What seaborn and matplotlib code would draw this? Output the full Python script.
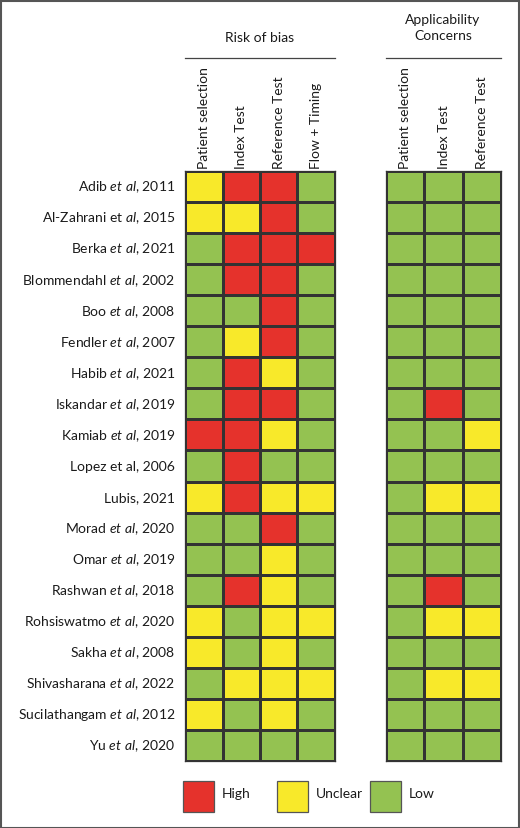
import numpy as np
import pandas as pd
import matplotlib
matplotlib.use("Agg")
import matplotlib.pyplot as plt
import seaborn as sns
from matplotlib.colors import ListedColormap
from matplotlib.patches import Rectangle
from matplotlib.lines import Line2D

studies = ["Adib $\\mathit{et\\ al}$, 2011",
           "Al-Zahrani et $\\mathit{al}$, 2015",
           "Berka $\\mathit{et\\ al}$, 2021",
           "Blommendahl $\\mathit{et\\ al}$, 2002",
           "Boo $\\mathit{et\\ al}$, 2008",
           "Fendler $\\mathit{et\\ al}$, 2007",
           "Habib $\\mathit{et\\ al}$, 2021",
           "Iskandar $\\mathit{et\\ al}$, 2019",
           "Kamiab $\\mathit{et\\ al}$, 2019",
           "Lopez et al, 2006",
           "Lubis, 2021",
           "Morad $\\mathit{et\\ al}$, 2020",
           "Omar $\\mathit{et\\ al}$, 2019",
           "Rashwan $\\mathit{et\\ al}$, 2018",
           "Rohsiswatmo $\\mathit{et\\ al}$, 2020",
           "Sakha $\\mathit{et\\ al}$, 2008",
           "Shivasharana $\\mathit{et\\ al}$, 2022",
           "Sucilathangam $\\mathit{et\\ al}$, 2012",
           "Yu $\\mathit{et\\ al}$, 2020"]

bias_domains = ["Patient selection", "Index Test", "Reference Test", "Flow + Timing"]
applic_domains = ["Patient selection", "Index Test", "Reference Test"]

# H = high, U = unclear, L = low
bias_patient = ["U", "U", "L", "L", "L", "L", "L", "L", "H", "L", "U", "L", "L", "L", "U", "U", "L", "U", "L"]
bias_index = ["H", "U", "H", "H", "L", "U", "H", "H", "H", "H", "H", "L", "L", "H", "L", "L", "U", "L", "L"]
bias_reference = ["H", "H", "H", "H", "H", "H", "U", "H", "U", "L", "U", "H", "U", "U", "U", "U", "U", "U", "L"]
bias_flow = ["L", "L", "H", "L", "L", "L", "L", "L", "L", "L", "U", "L", "L", "L", "U", "L", "U", "L", "L"]

applic_patient = ["L"] * 19
applic_index = ["L", "L", "L", "L", "L", "L", "L", "H", "L", "L", "U", "L", "L", "H", "U", "L", "U", "L", "L"]
applic_reference = ["L", "L", "L", "L", "L", "L", "L", "L", "U", "L", "U", "L", "L", "L", "U", "L", "U", "L", "L"]

legend_labels = ["High", "Unclear", "Low"]
code = {"H": 0, "U": 1, "L": 2}

red = "#E5322C"
yellow = "#F8E92A"
green = "#94C251"
cmap = ListedColormap([red, yellow, green])

plt.rcParams["font.family"] = ["Lato", "DejaVu Sans"]
plt.rcParams["mathtext.fontset"] = "custom"
plt.rcParams["mathtext.rm"] = "Lato"
plt.rcParams["mathtext.it"] = "Lato:italic"
plt.rcParams["text.color"] = "#1a1a1a"

bias_df = pd.DataFrame({bias_domains[0]: bias_patient, bias_domains[1]: bias_index,
                        bias_domains[2]: bias_reference, bias_domains[3]: bias_flow},
                       index=studies).replace(code).astype(int)
applic_df = pd.DataFrame({applic_domains[0]: applic_patient, applic_domains[1]: applic_index,
                          applic_domains[2]: applic_reference},
                         index=studies).replace(code).astype(int)

W, H = 520, 829
fig = plt.figure(figsize=(W / 100, H / 100), dpi=100)


def px_axes(x0, y0, x1, y1):
    return fig.add_axes([x0 / W, 1 - y1 / H, (x1 - x0) / W, (y1 - y0) / H])


fs = 10
ax1 = px_axes(185, 172, 335, 762)
ax2 = px_axes(386, 172, 501, 762)
for ax, df, show_y in [(ax1, bias_df, True), (ax2, applic_df, False)]:
    sns.heatmap(df, ax=ax, cmap=cmap, vmin=-0.5, vmax=2.5, cbar=False,
                linewidths=0.9, linecolor="#333333",
                xticklabels=True, yticklabels=show_y)
    ax.xaxis.tick_top()
    ax.set_xticklabels(df.columns, rotation=90, fontsize=fs, va="bottom")
    ax.tick_params(length=0, pad=2, colors="#1a1a1a")
    if show_y:
        ax.set_yticklabels(df.index, rotation=0, fontsize=fs)
        ax.tick_params(axis="y", pad=7)
    for s in ax.spines.values():
        s.set_visible(True)
        s.set_color("#333333")
        s.set_linewidth(0.9)

# group headers
fig.text(260 / W, 1 - 38 / H, "Risk of bias", ha="center", va="center", fontsize=fs)
fig.text(443 / W, 1 - 28 / H, "Applicability\nConcerns", ha="center", va="center",
         fontsize=fs, linespacing=1.35)
fig.add_artist(Line2D([185 / W, 335 / W], [1 - 59 / H] * 2, color="#444444", lw=0.9))
fig.add_artist(Line2D([386 / W, 501 / W], [1 - 59 / H] * 2, color="#444444", lw=0.9))

# legend
leg_x = [183, 277, 370]
for x, lab, c in zip(leg_x, legend_labels, [red, yellow, green]):
    fig.add_artist(Rectangle((x / W, 1 - 813 / H), 31 / W, 31 / H, facecolor=c,
                             edgecolor="#555555", lw=0.9))
    fig.text((x + 39) / W, 1 - 794 / H, lab, ha="left", va="center", fontsize=fs)

# outer frame
fig.add_artist(Rectangle((0.5 / W, 0.5 / H), (W - 2) / W, (H - 2) / H, fill=False,
                         edgecolor="#555555", lw=1.5))

fig.savefig("out.png", dpi=100, facecolor="white")
